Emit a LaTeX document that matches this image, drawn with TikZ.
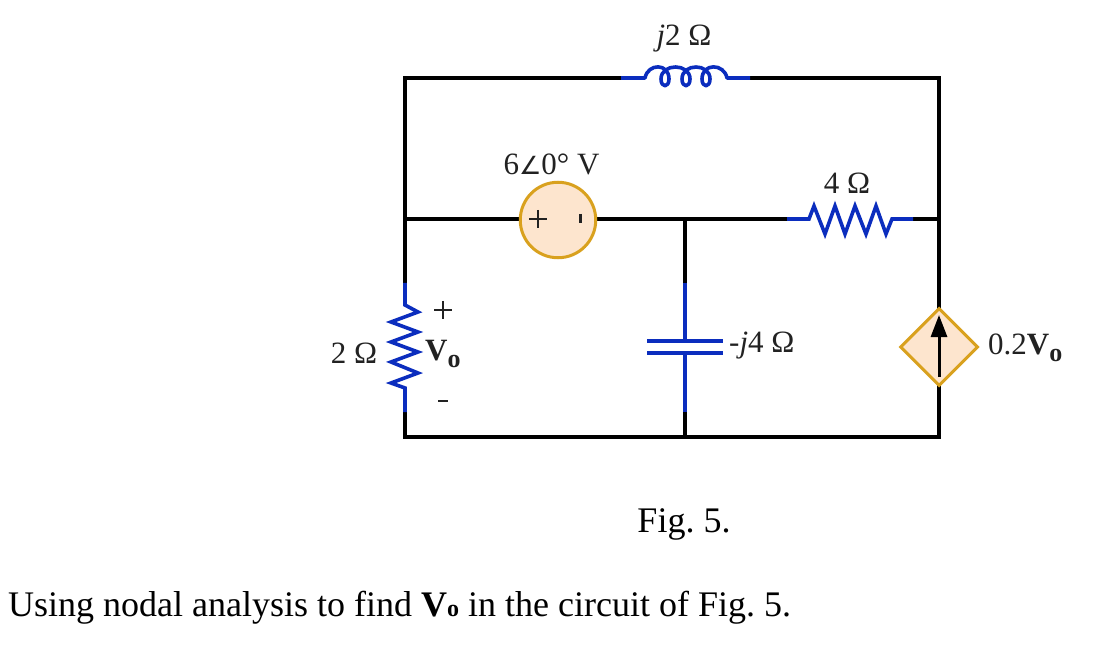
\documentclass[tikz,border=0pt]{standalone}
\usepackage{fontspec}
\setmainfont{Liberation Serif}
\newfontfamily\symfont{DejaVu Sans}
\usetikzlibrary{arrows.meta,shapes.geometric}
\definecolor{compblue}{HTML}{0B2DBE}
\definecolor{compfill}{HTML}{FDE5CE}
\definecolor{compedge}{HTML}{D9A11E}
\definecolor{inkc}{HTML}{222222}
\newcommand{\lab}{\fontsize{31}{34}\selectfont}
\newcommand{\captfont}{\frenchspacing\fontsize{36}{42}\selectfont}
\newcommand{\subo}{\raisebox{-7pt}{\fontsize{26}{28}\selectfont\bfseries o}}
\tikzset{
  wire/.style={draw=black,line width=3.6pt,line cap=rect},
  comp/.style={draw=compblue,line width=3.6pt,line join=miter},
  srcshape/.style={draw=compedge,fill=compfill,line width=3pt},
  txt/.style={text=inkc,inner sep=0pt,font=\lab},
  captxt/.style={text=black,inner sep=0pt,font=\captfont}
}
\begin{document}
\begin{tikzpicture}[x=1pt,y=-1pt]
\useasboundingbox (0,0) rectangle (1093,655);
\fill[white] (0,0) rectangle (1093,655);
% junctions
\coordinate (tl) at (405,78);
\coordinate (tr) at (939,78);
\coordinate (ml) at (405,219);
\coordinate (mc) at (685,219);
\coordinate (mr) at (939,219);
\coordinate (bl) at (405,437);
\coordinate (bc) at (685,437);
\coordinate (br) at (939,437);
\coordinate (ind1) at (621,78);
\coordinate (ind2) at (750,78);
\coordinate (r41) at (787,219);
\coordinate (r42) at (913,219);
\coordinate (r21) at (405,283);
\coordinate (r22) at (405,412);
\coordinate (c1) at (685,283);
\coordinate (c2) at (685,412);
% wires
\draw[wire] (ind1) -- (tl) -- (ml) -- (558,219);
\draw[wire] (ml) -- (r21);
\draw[wire] (r22) -- (bl) -- (br) -- (939,347);
\draw[wire] (ind2) -- (tr) -- (939,347);
\draw[wire] (558,219) -- (r41);
\draw[wire] (r42) -- (mr);
\draw[wire] (mc) -- (c1);
\draw[wire] (c2) -- (bc);
\node[circle,srcshape,minimum size=75.5pt,inner sep=0pt] (src) at (558,220) {};
\node[diamond,aspect=1,srcshape,minimum size=78pt,inner sep=0pt] (dep) at (939,347) {};
% inductor
\draw[comp,line join=round] (ind1) -- (645,78)
  .. controls (648,63) and (669,63) .. (669,79)
  .. controls (669,88) and (661,88) .. (661,79)
  .. controls (661,63) and (690,63) .. (690,79)
  .. controls (690,88) and (682,88) .. (682,79)
  .. controls (682,63) and (710,63) .. (710,79)
  .. controls (710,88) and (702,88) .. (702,79)
  .. controls (702,63) and (724,63) .. (727,78)
  -- (ind2);
% 4 ohm
\draw[comp] (r41) -- (809,219) -- (814,206) -- (825,234) -- (835,206) -- (845,234) -- (855,206) -- (866,234) -- (876,206) -- (886,234) -- (892,219) -- (r42);
% 2 ohm
\draw[comp] (r21) -- (405,305) -- (418,312) -- (391,322) -- (418,332) -- (391,342) -- (418,352) -- (391,362) -- (418,373) -- (391,383) -- (405,388) -- (r22);
% capacitor
\draw[comp] (c1) -- (685,341);
\draw[comp] (685,353) -- (c2);
\draw[comp] (647,341) -- (723,341);
\draw[comp] (647,353) -- (723,353);
% source polarity
\draw[draw=inkc,line width=2.6pt] (529,219) -- (547,219) (538,210) -- (538,228);
\draw[draw=inkc,line width=3pt] (580,214) -- (580,223);
% dependent source arrow
\draw[line width=3pt,-{Triangle[length=22pt,width=16pt]},black] (939,377) -- (939,315);
% labels
\node[txt] (lind) at (684,39) {\textit{j}2 Ω};
\node[txt] (lsrc) at (551.5,164) {6{\symfont\fontsize{25}{28}\selectfont ∠}0° V};
\node[txt] (lr4) at (847,183) {4 Ω};
\node[txt] (lr2) at (354,353) {2 Ω};
\draw[draw=inkc,line width=2.6pt] (434,310) -- (452,310) (443,301) -- (443,319);
\node[txt,anchor=west] (lvo) at (425,354) {\textbf{V}\subo};
\draw[draw=inkc,line width=2.8pt] (438,401) -- (448,401);
\node[txt,anchor=west] (lc) at (729,346) {-\textit{j}4 Ω};
\node[txt,anchor=west] (ldep) at (988,348) {0.2\textbf{V}\subo};
\node[captxt] (fig) at (684,524.5) {Fig. 5.};
\node[captxt,anchor=west] (line) at (8,607.5) {Using nodal analysis to find \textbf{V}{\fontsize{24}{26}\selectfont\bfseries o} in the circuit of Fig. 5.};
\end{tikzpicture}
\end{document}
